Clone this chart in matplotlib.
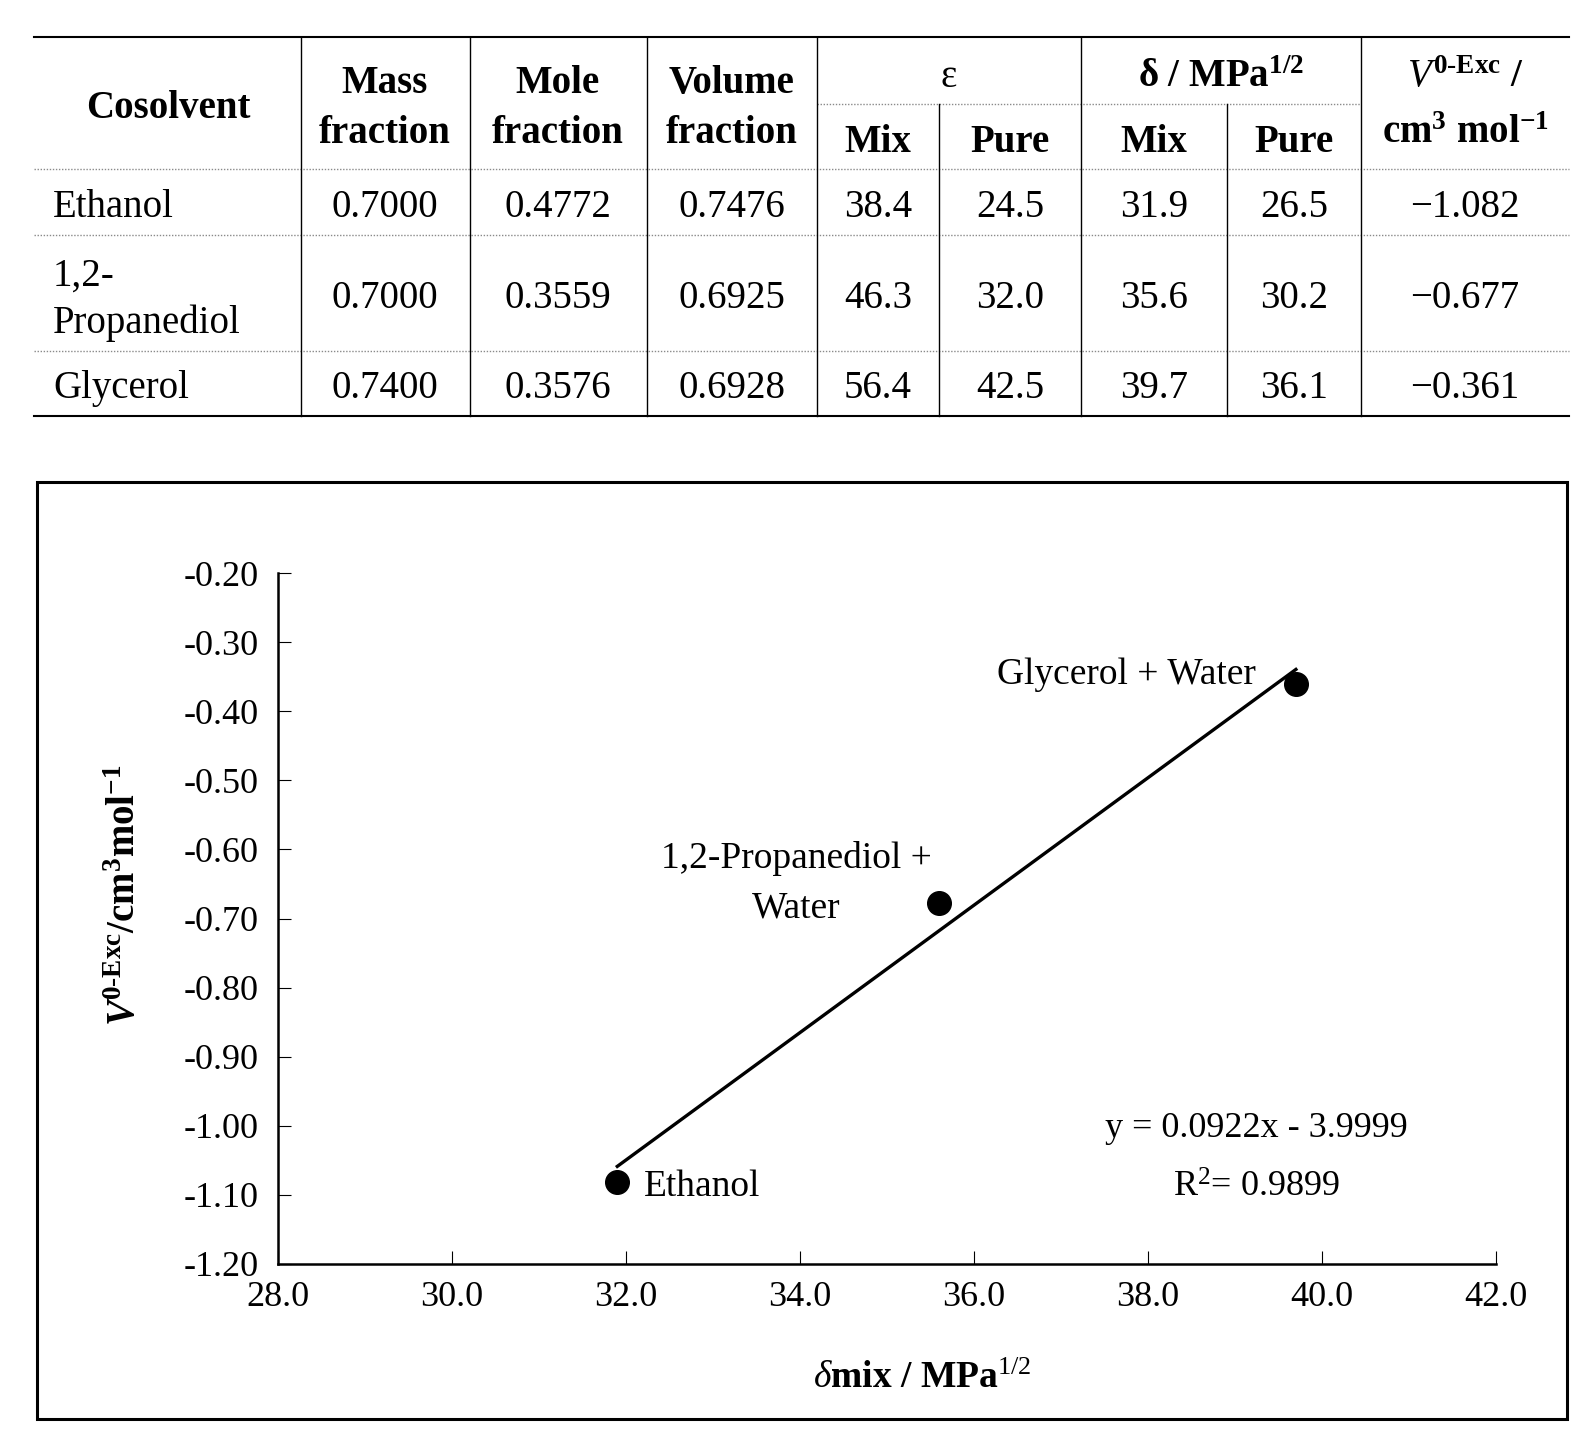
import matplotlib
matplotlib.use("Agg")
import matplotlib.pyplot as plt
from matplotlib.lines import Line2D
from matplotlib.patches import Rectangle

# ---- data ----
cosolvents = ["Ethanol", "1,2-\nPropanediol", "Glycerol"]
mass_fraction = ["0.7000", "0.7000", "0.7400"]
mole_fraction = ["0.4772", "0.3559", "0.3576"]
volume_fraction = ["0.7476", "0.6925", "0.6928"]
eps_mix = ["38.4", "46.3", "56.4"]
eps_pure = ["24.5", "32.0", "42.5"]
delta_mix_txt = ["31.9", "35.6", "39.7"]
delta_pure = ["26.5", "30.2", "36.1"]
v_exc_txt = ["\u22121.082", "\u22120.677", "\u22120.361"]

delta_mix = [31.9, 35.6, 39.7]
v_exc = [-1.082, -0.677, -0.361]
point_labels = ["Ethanol", "1,2-Propanediol +\nWater", "Glycerol + Water"]
fit_slope = 0.0922
fit_intercept = -3.9999
fit_r2 = 0.9899

xticks = [28.0, 30.0, 32.0, 34.0, 36.0, 38.0, 40.0, 42.0]
yticks = [-1.20, -1.10, -1.00, -0.90, -0.80, -0.70, -0.60, -0.50, -0.40, -0.30, -0.20]

# ---- fonts ----
plt.rcParams['font.family'] = ['Liberation Serif', 'DejaVu Serif']
plt.rcParams['mathtext.fontset'] = 'custom'
plt.rcParams['mathtext.rm'] = 'Liberation Serif'
plt.rcParams['mathtext.it'] = 'Liberation Serif:italic'
plt.rcParams['mathtext.bf'] = 'Liberation Serif:bold'
plt.rcParams['mathtext.bfit'] = 'Liberation Serif:italic:bold'
plt.rcParams['axes.unicode_minus'] = False

W, H = 1588, 1432
fig = plt.figure(figsize=(W / 100, H / 100), dpi=100)


def fx(px):
    return px / W


def fy(py):
    return 1 - py / H


def hline(y, x0, x1, dotted=False, lw=1.0):
    if dotted:
        ln = Line2D([fx(x0), fx(x1)], [fy(y), fy(y)], transform=fig.transFigure,
                    color='#8a8a8a', lw=1.0, linestyle=(0, (1, 1.2)))
    else:
        ln = Line2D([fx(x0), fx(x1)], [fy(y), fy(y)], transform=fig.transFigure,
                    color='black', lw=lw)
    fig.add_artist(ln)


def vline(x, y0, y1):
    fig.add_artist(Line2D([fx(x), fx(x)], [fy(y0), fy(y1)], transform=fig.transFigure,
                          color='black', lw=1.0))


def ftext(x, y, s, ha='center', bold=False, size=28):
    fig.text(fx(x), fy(y), s, ha=ha, va='baseline', fontsize=size,
             fontweight='bold' if bold else 'normal')


# ---- table ----
t_left, t_right = 34, 1569
t_top, t_sub, t_head, t_bot = 37, 104, 169, 416
row_lines = [235, 351]
col_edges = [301, 470, 647, 817, 1081, 1361]
sub_edges = [939, 1227]

hline(t_top, t_left, t_right, lw=1.5)
hline(t_bot, t_left, t_right, lw=1.5)
hline(t_head, t_left, t_right, dotted=True)
for y in row_lines:
    hline(y, t_left, t_right, dotted=True)
hline(t_sub, 817, 1361, dotted=True)
for x in col_edges:
    vline(x, t_top, t_bot)
for x in sub_edges:
    vline(x, t_sub, t_bot)

# header
ftext(168, 118, "Cosolvent", bold=True)
for cx, word in zip([385, 558, 732], ["Mass", "Mole", "Volume"]):
    ftext(cx, 93, word, bold=True)
    ftext(cx, 143, "fraction", bold=True)
ftext(949, 87, "\u03b5")
ftext(1221, 87, "\u03b4 / MPa$^{\\mathbf{1/2}}$", bold=True)
ftext(1465, 87, r"$\mathit{V}^{\mathbf{0}\text{-}\mathbf{Exc}}$ /", bold=True)
for cx in [878, 1154]:
    ftext(cx, 152, "Mix", bold=True)
for cx in [1010, 1294]:
    ftext(cx, 152, "Pure", bold=True)
ftext(1465, 143, r"cm$^{\mathbf{3}}$ mol$^{\mathbf{-1}}$", bold=True)

# body
row_base = [217, 308, 398]
col_centers = [385, 558, 732, 878, 1010, 1154, 1294, 1465]
columns = [mass_fraction, mole_fraction, volume_fraction, eps_mix, eps_pure,
           delta_mix_txt, delta_pure, v_exc_txt]
for i, name in enumerate(cosolvents):
    lines = name.split("\n")
    if len(lines) == 1:
        ftext(53, row_base[i], name, ha='left')
    else:
        ftext(53, row_base[i] - 22, lines[0], ha='left')
        ftext(53, row_base[i] + 25, lines[1], ha='left')
    for cx, col in zip(col_centers, columns):
        ftext(cx, row_base[i], col[i])

# ---- chart ----
fig.add_artist(Rectangle((fx(37), fy(1419)), fx(1567) - fx(37), fy(482) - fy(1419),
                         transform=fig.transFigure, fill=False, lw=2.2, ec='black'))

ax = fig.add_axes([fx(278), fy(1264), fx(1496) - fx(278), fy(573) - fy(1264)])
ax.set_xlim(28, 42)
ax.set_ylim(-1.2, -0.2)
for side in ['top', 'right']:
    ax.spines[side].set_visible(False)
for side in ['left', 'bottom']:
    ax.spines[side].set_linewidth(1.8)
ax.set_xticks(xticks)
ax.set_yticks(yticks)
ax.set_xticklabels([f"{v:.1f}" for v in xticks])
ax.set_yticklabels([f"{v:.2f}" for v in yticks])
ax.tick_params(axis='both', direction='in', length=9.5, width=0.8, labelsize=26)
ax.tick_params(axis='y', pad=14)
ax.tick_params(axis='x', pad=12)

ax.plot(delta_mix, v_exc, 'o', color='black', markersize=17, zorder=3)
x0, x1 = min(delta_mix), max(delta_mix)
ax.plot([x0, x1], [fit_slope * x0 + fit_intercept, fit_slope * x1 + fit_intercept],
        color='black', lw=2.4)

ax.annotate(point_labels[0], (delta_mix[0], v_exc[0]), xytext=(19, -3),
            textcoords='offset points', ha='left', va='center', fontsize=27)
ax.annotate(point_labels[1], (delta_mix[1], v_exc[1]), xytext=(-103, 14),
            textcoords='offset points', ha='center', va='center', fontsize=27,
            linespacing=1.55)
ax.annotate(point_labels[2], (delta_mix[2], v_exc[2]), xytext=(-29, 7),
            textcoords='offset points', ha='right', va='center', fontsize=27)

ax.text(0.803, 0.196, f"y = {fit_slope:.4f}x - {abs(fit_intercept):.4f}",
        transform=ax.transAxes, ha='center', va='center', fontsize=26)
ax.text(0.803, 0.110, f"R$^2$= {fit_r2:.4f}",
        transform=ax.transAxes, ha='center', va='center', fontsize=26)

ax.set_xlabel(r"$\delta$mix / MPa$^{1/2}$", fontsize=27, fontweight='bold')
ax.xaxis.set_label_coords(0.529, -0.140)
ax.set_ylabel(r"$\mathbfit{V}^{\mathbf{0}\text{-}\mathbf{Exc}}$/cm$^{\mathbf{3}}$mol$^{\mathbf{-1}}$",
              fontsize=28, fontweight='bold')
ax.yaxis.set_label_coords(-0.110, 0.534)

fig.savefig("out.png", dpi=100)
